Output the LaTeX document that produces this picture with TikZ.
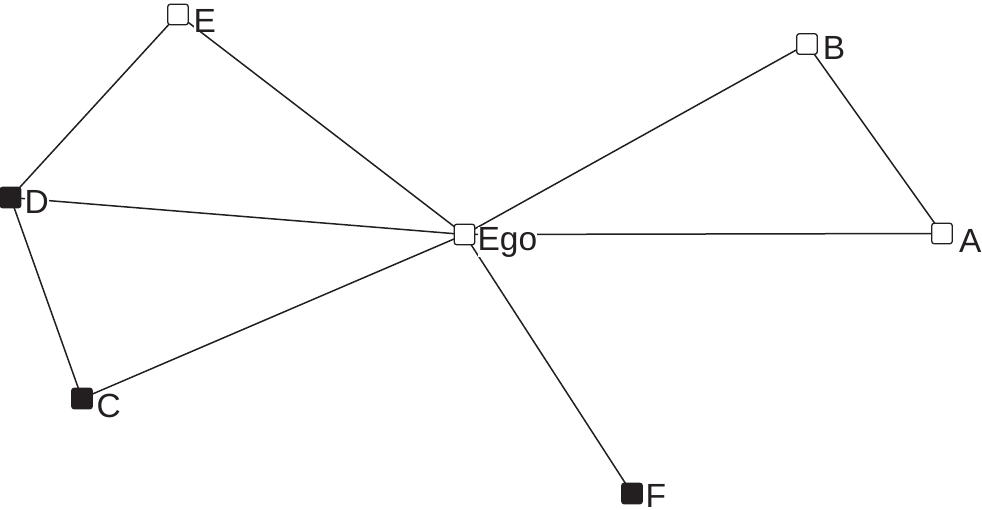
\documentclass[tikz,border=0pt]{standalone}
\usepackage{fontspec}
\setmainfont{Liberation Sans}
\definecolor{ink}{HTML}{231F20}
\begin{document}
\begin{tikzpicture}[x=1pt,y=-1pt,
  actor/.style={draw=ink,line width=1.3pt,rounded corners=2.5pt,minimum size=20.5pt,inner sep=0pt,fill=white},
  member/.style={actor,fill=ink},
  lbl/.style={anchor=base west,inner sep=0pt,fill=white,text=ink,font=\fontsize{33.5}{36}\selectfont},
  tie/.style={draw=ink,line width=1.5pt}]
\useasboundingbox (0,0) rectangle (982,509);
\coordinate (pE) at (178,14.5);
\coordinate (pD) at (10.5,197.5);
\coordinate (pC) at (82,398.5);
\coordinate (pEgo) at (464.5,234.5);
\coordinate (pB) at (807,44);
\coordinate (pA) at (942,233.5);
\coordinate (pF) at (632,493.5);
\draw[tie] (pE) -- (pD);
\draw[tie] (pE) -- (pEgo);
\draw[tie] (pD) -- (pEgo);
\draw[tie] (pD) -- (pC);
\draw[tie] (pC) -- (pEgo);
\draw[tie] (pEgo) -- (pB);
\draw[tie] (pB) -- (pA);
\draw[tie] (pEgo) -- (pA);
\draw[tie] (pEgo) -- (pF);
\node[actor] (E) at (pE) {};
\node[member] (D) at (pD) {};
\node[member] (C) at (pC) {};
\node[actor] (Ego) at (pEgo) {};
\node[actor] (B) at (pB) {};
\node[actor] (A) at (pA) {};
\node[member] (F) at (pF) {};
\node[lbl] (lE) at (193.4,32) {E};
\node[lbl] (lD) at (24.4,213) {D};
\node[lbl] (lEgo) at (477.4,250) {Ego};
\node[lbl] (lB) at (822.6,59) {B};
\node[lbl] (lA) at (959,252) {A};
\node[lbl] (lC) at (96.3,417) {C};
\node[lbl] (lF) at (645.3,507) {F};
\end{tikzpicture}
\end{document}
